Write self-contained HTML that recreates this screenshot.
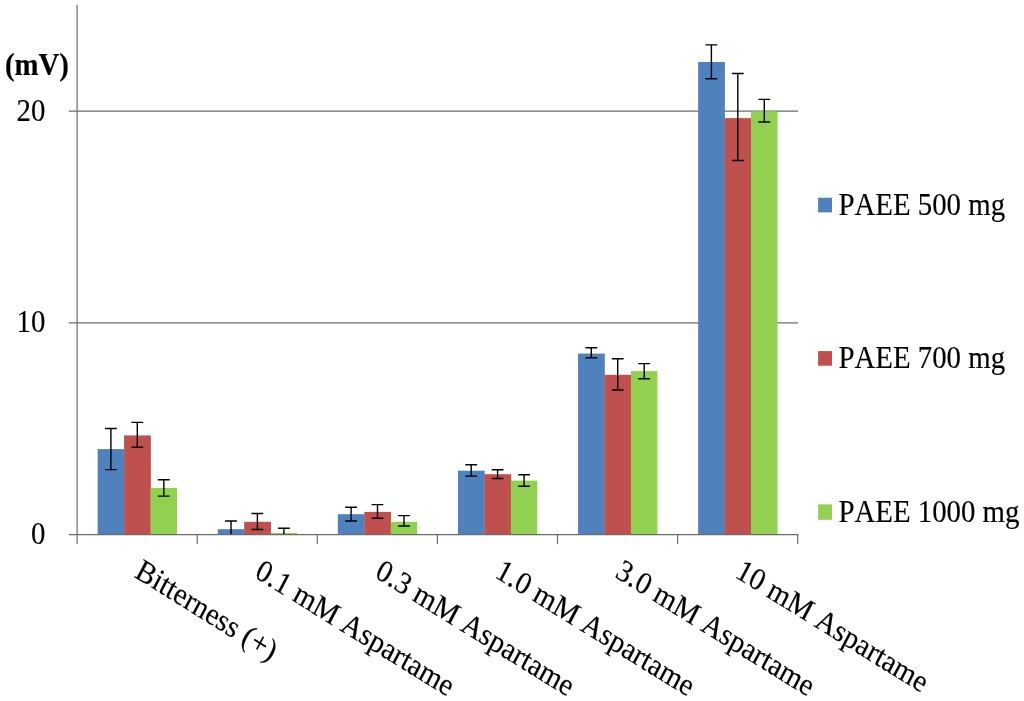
<!DOCTYPE html>
<html lang="en">
<head>
<meta charset="utf-8">
<title>Taste sensor output (mV)</title>
<style>
html,body{margin:0;padding:0;background:#fff;}
body{width:1024px;height:701px;overflow:hidden;}
svg{display:block;}
text{font-family:"Liberation Serif","Times New Roman",serif;font-size:28.85px;fill:#000;font-kerning:none;stroke:#000;stroke-width:0.15px;}
.ax{stroke:#6c6c6c;stroke-width:1.2;fill:none;}
.eb{stroke:#000;stroke-width:1.4;fill:none;}
</style>
</head>
<body>
<svg width="1024" height="701" viewBox="0 0 1024 701">
<rect x="0" y="0" width="1024" height="701" fill="#ffffff"/>

<g class="ax">
<line x1="68.8" y1="111.05" x2="798.0" y2="111.05"/>
<line x1="68.8" y1="322.95" x2="798.0" y2="322.95"/>
</g>
<g>
<rect x="97.65" y="449.1" width="26.75" height="85.20" fill="#4F81BD"/>
<rect x="124.10" y="435.4" width="26.75" height="98.90" fill="#C0504D"/>
<rect x="150.55" y="487.9" width="26.45" height="46.40" fill="#92D050"/>
</g>
<g>
<rect x="217.75" y="529.2" width="26.75" height="5.10" fill="#4F81BD"/>
<rect x="244.20" y="521.8" width="26.75" height="12.50" fill="#C0504D"/>
<rect x="270.65" y="532.9" width="26.45" height="1.40" fill="#92D050"/>
</g>
<g>
<rect x="337.85" y="514.2" width="26.75" height="20.10" fill="#4F81BD"/>
<rect x="364.30" y="511.9" width="26.75" height="22.40" fill="#C0504D"/>
<rect x="390.75" y="521.8" width="26.45" height="12.50" fill="#92D050"/>
</g>
<g>
<rect x="457.95" y="470.7" width="26.75" height="63.60" fill="#4F81BD"/>
<rect x="484.40" y="474.2" width="26.75" height="60.10" fill="#C0504D"/>
<rect x="510.85" y="480.6" width="26.45" height="53.70" fill="#92D050"/>
</g>
<g>
<rect x="578.05" y="353.6" width="26.75" height="180.70" fill="#4F81BD"/>
<rect x="604.50" y="374.8" width="26.75" height="159.50" fill="#C0504D"/>
<rect x="630.95" y="371.1" width="26.45" height="163.20" fill="#92D050"/>
</g>
<g>
<rect x="698.15" y="62.0" width="26.75" height="472.30" fill="#4F81BD"/>
<rect x="724.60" y="118.1" width="26.75" height="416.20" fill="#C0504D"/>
<rect x="751.05" y="111.4" width="26.45" height="422.90" fill="#92D050"/>
</g>
<g class="ax">
<line x1="77.1" y1="4.8" x2="77.1" y2="544.1"/>
<line x1="68.8" y1="534.7" x2="798.4" y2="534.7"/>
<line x1="197.2" y1="534.7" x2="197.2" y2="544.1"/>
<line x1="317.3" y1="534.7" x2="317.3" y2="544.1"/>
<line x1="437.4" y1="534.7" x2="437.4" y2="544.1"/>
<line x1="557.5" y1="534.7" x2="557.5" y2="544.1"/>
<line x1="677.6" y1="534.7" x2="677.6" y2="544.1"/>
<line x1="797.7" y1="534.7" x2="797.7" y2="544.1"/>
</g>
<g class="eb">
<path d="M105.0 428.5H116.8M110.9 428.5V469.6M105.0 469.6H116.8"/>
<path d="M131.4 422.4H143.2M137.3 422.4V447.3M131.4 447.3H143.2"/>
<path d="M157.9 479.7H169.7M163.8 479.7V496.1M157.9 496.1H169.7"/>
<path d="M225.1 521.0H236.9M231.0 521.0V534.2"/>
<path d="M251.5 513.5H263.3M257.4 513.5V529.5M251.5 529.5H263.3"/>
<path d="M278.0 528.2H289.8M283.9 528.2V534.2"/>
<path d="M345.2 507.3H357.0M351.1 507.3V521.0M345.2 521.0H357.0"/>
<path d="M371.6 504.6H383.4M377.5 504.6V518.3M371.6 518.3H383.4"/>
<path d="M398.1 515.6H409.9M404.0 515.6V526.0M398.1 526.0H409.9"/>
<path d="M465.3 464.8H477.1M471.2 464.8V476.1M465.3 476.1H477.1"/>
<path d="M491.7 469.7H503.5M497.6 469.7V478.5M491.7 478.5H503.5"/>
<path d="M518.2 474.7H530.0M524.1 474.7V486.2M518.2 486.2H530.0"/>
<path d="M585.4 347.8H597.2M591.3 347.8V357.7M585.4 357.7H597.2"/>
<path d="M611.8 358.8H623.6M617.7 358.8V390.0M611.8 390.0H623.6"/>
<path d="M638.3 363.6H650.1M644.2 363.6V378.8M638.3 378.8H650.1"/>
<path d="M705.5 44.9H717.3M711.4 44.9V78.7M705.5 78.7H717.3"/>
<path d="M731.9 73.5H743.7M737.8 73.5V160.5M731.9 160.5H743.7"/>
<path d="M758.4 99.4H770.2M764.3 99.4V122.0M758.4 122.0H770.2"/>
</g>
<text transform="translate(4.9,75.3) scale(1,1.085)" font-weight="bold">(mV)</text>
<text transform="translate(45.4,120.5) scale(1,1.085)" text-anchor="end">20</text>
<text transform="translate(45.4,332.3) scale(1,1.085)" text-anchor="end">10</text>
<text transform="translate(45.4,544.2) scale(1,1.085)" text-anchor="end">0</text>
<text transform="translate(133.5,576.5) scale(1,1.085) rotate(29.8)">Bitterness (+)</text>
<text transform="translate(253.6,576.5) scale(1,1.085) rotate(29.8)">0.1 mM Aspartame</text>
<text transform="translate(373.7,576.5) scale(1,1.085) rotate(29.8)">0.3 mM Aspartame</text>
<text transform="translate(493.8,576.5) scale(1,1.085) rotate(29.8)">1.0 mM Aspartame</text>
<text transform="translate(613.9,576.5) scale(1,1.085) rotate(29.8)">3.0 mM Aspartame</text>
<text transform="translate(734.0,576.5) scale(1,1.085) rotate(29.8)">10 mM Aspartame</text>
<rect x="818.1" y="197.7" width="13.9" height="14.7" fill="#4F81BD"/>
<text transform="translate(838.4,214.8) scale(1,1.085)">PAEE 500 mg</text>
<rect x="818.1" y="351.1" width="13.9" height="14.6" fill="#C0504D"/>
<text transform="translate(838.4,367.7) scale(1,1.085)">PAEE 700 mg</text>
<rect x="818.1" y="504.4" width="13.9" height="15.4" fill="#92D050"/>
<text transform="translate(838.4,521.6) scale(1,1.085)">PAEE 1000 mg</text>
</svg>
</body>
</html>
